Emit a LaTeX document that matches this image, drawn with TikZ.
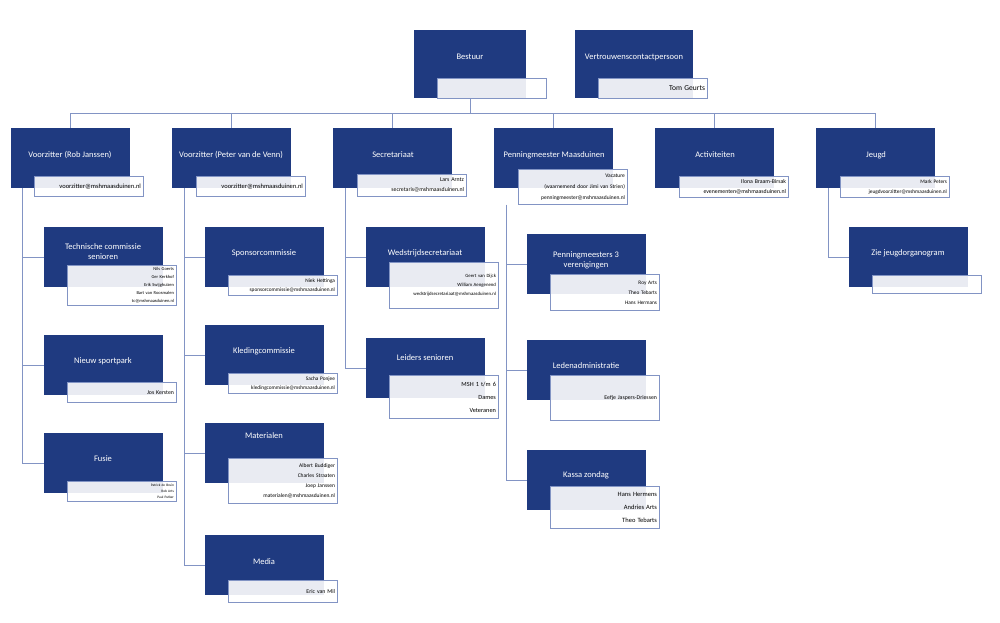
\documentclass[tikz,border=0pt]{standalone}
\usepackage{fontspec}
\setmainfont{Carlito}
\usetikzlibrary{positioning}
\definecolor{unitblue}{HTML}{1F3A80}
\definecolor{linegray}{HTML}{8294C4}
\tikzset{
    unitbox/.style={rectangle, fill=unitblue, minimum width=119pt, minimum height=60pt, anchor=north west, inner sep=0pt},
    infobox/.style={rectangle, draw=linegray, line width=0.9pt, fill=white, fill opacity=0.9, text opacity=1, anchor=north west, minimum width=109pt, inner sep=2pt, text width=104pt, align=right},
    title/.style={text=white, font=\fontsize{8.5}{10}\selectfont, align=center},
    conn/.style={draw=linegray, line width=1pt}
}
\begin{document}
\begin{tikzpicture}[x=1pt, y=-1pt]
    \useasboundingbox (0,0) rectangle (1000,622);
    % top
    \node[unitbox, minimum width=112pt, minimum height=68pt] (bestuur) at (414,30) {};
    \node[infobox, minimum height=20pt] (ibestuur) at (437,78) {};
    \node[title] (tbestuur) at (470,57) {Bestuur};
    \node[unitbox, minimum width=118pt, minimum height=68pt] (vcp) at (575,30) {};
    \node[infobox, minimum height=20pt, font=\fontsize{7.5}{9}\selectfont] (ivcp) at (598,78) {Tom Geurts};
    \node[title] (tvcp) at (634,57) {Vertrouwenscontactpersoon};

    % level 1
    \node[unitbox] (vz1) at (11,128) {};
    \node[unitbox] (vz2) at (172,128) {};
    \node[unitbox] (secr) at (333,128) {};
    \node[unitbox] (penn) at (494,128) {};
    \node[unitbox] (act) at (655,128) {};
    \node[unitbox] (jeugd) at (816,128) {};
    \node[title] at (70,155) {Voorzitter (Rob Janssen)};
    \node[title] at (231,155) {Voorzitter (Peter van de Venn)};
    \node[title] at (393,155) {Secretariaat};
    \node[title] at (554,155) {Penningmeester Maasduinen};
    \node[title] at (715,155) {Activiteiten};
    \node[title] at (876,155) {Jeugd};
    \node[infobox, minimum height=20pt, font=\fontsize{6.5}{8}\selectfont] (ivz1) at (34,176) {voorzitter@mshmaasduinen.nl};
    \node[infobox, minimum height=20pt, font=\fontsize{6.5}{8}\selectfont] (ivz2) at (196,176) {voorzitter@mshmaasduinen.nl};
    \node[infobox, minimum height=22pt, font=\fontsize{5.8}{10}\selectfont] (isecr) at (357,174) {Lars Arntz\\secretaris@mshmaasduinen.nl};
    \node[infobox, minimum height=35pt, font=\fontsize{5.5}{11}\selectfont] (ipenn) at (518,169) {Vacature\\(waarnemend door Jimi van Strien)\\penningmeester@mshmaasduinen.nl};
    \node[infobox, minimum height=21pt, font=\fontsize{5.8}{10}\selectfont] (iact) at (679,176) {Ilona Braam-Birsak\\evenementen@mshmaasduinen.nl};
    \node[infobox, minimum height=21pt, font=\fontsize{5.3}{10}\selectfont] (ijeugd) at (840,176) {Mark Peters\\jeugdvoorzitter@mshmaasduinen.nl};

    % column 1
    \node[unitbox] (tc) at (44,227) {};
    \node[title] at (103,252) {Technische commissie\\senioren};
    \node[infobox, minimum height=40pt, font=\fontsize{4.5}{8}\selectfont, inner sep=1pt] (itc) at (67,265) {Nils Goerts\\Ger Kerkhof\\Erik Swijghuizen\\Bart van Roosmalen\\tc@mshmaasduinen.nl};
    \node[unitbox] (sport) at (44,335) {};
    \node[title] at (103,361) {Nieuw sportpark};
    \node[infobox, minimum height=20pt, font=\fontsize{5.8}{8}\selectfont] (isport) at (67,382) {Jos Kersten};
    \node[unitbox] (fusie) at (44,433) {};
    \node[title] at (103,459) {Fusie};
    \node[infobox, minimum height=20pt, font=\fontsize{3.5}{6}\selectfont, inner sep=1pt] (ifusie) at (67,481) {Patrick de Bruin\\Rob Arts\\Paul Putker};

    % column 2
    \node[unitbox] (spons) at (205,227) {};
    \node[title] at (264,253) {Sponsorcommissie};
    \node[infobox, minimum height=20pt, font=\fontsize{5.3}{9}\selectfont] (ispons) at (228,275) {Niek Hettinga\\sponsorcommissie@mshmaasduinen.nl};
    \node[unitbox] (kled) at (205,325) {};
    \node[title] at (264,351) {Kledingcommissie};
    \node[infobox, minimum height=20pt, font=\fontsize{5.3}{9}\selectfont] (ikled) at (228,373) {Sacha Ponjee\\kledingcommissie@mshmaasduinen.nl};
    \node[unitbox] (mat) at (205,423) {};
    \node[title] at (264,436) {Materialen};
    \node[infobox, minimum height=45pt, font=\fontsize{5.5}{10}\selectfont] (imat) at (228,458) {Albert Buddiger\\Charles Straaten\\Joep Janssen\\materialen@mshmaasduinen.nl};
    \node[unitbox] (media) at (205,535) {};
    \node[title] at (264,562) {Media};
    \node[infobox, minimum height=22pt, font=\fontsize{5.8}{8}\selectfont] (imedia) at (228,580) {Eric van Mil};

    % column 3
    \node[unitbox] (wed) at (366,227) {};
    \node[title] at (425,253) {Wedstrijdsecretariaat};
    \node[infobox, minimum height=46pt, font=\fontsize{4.8}{9}\selectfont] (iwed) at (389,262) {Geert van Dijck\\William Aengenend\\wedstrijdsecretariaat@mshmaasduinen.nl};
    \node[unitbox] (leid) at (366,338) {};
    \node[title] at (425,358) {Leiders senioren};
    \node[infobox, minimum height=43pt, font=\fontsize{6.3}{13}\selectfont] (ileid) at (389,375) {MSH 1 t/m 6\\Dames\\Veteranen};

    % column 4
    \node[unitbox] (pen3) at (527,234) {};
    \node[title] at (586,260) {Penningmeesters 3\\verenigingen};
    \node[infobox, minimum height=36pt, font=\fontsize{5.3}{10}\selectfont] (ipen3) at (550,274) {Roy Arts\\Theo Tebarts\\Hans Hermans};
    \node[unitbox] (leden) at (527,340) {};
    \node[title] at (586,366) {Ledenadministratie};
    \node[infobox, minimum height=45pt, font=\fontsize{5.8}{8}\selectfont] (ileden) at (550,375) {Eefje Jaspers-Driessen};
    \node[unitbox] (kassa) at (527,450) {};
    \node[title] at (586,475) {Kassa zondag};
    \node[infobox, minimum height=42pt, font=\fontsize{6.5}{13}\selectfont] (ikassa) at (550,486) {Hans Hermens\\Andries Arts\\Theo Tebarts};

    % column 6
    \node[unitbox] (zie) at (849,227) {};
    \node[title] at (908,253) {Zie jeugdorganogram};
    \node[infobox, minimum height=18pt] (izie) at (872,275) {};

    % connectors
    \draw[conn] (bestuur.south) -- ++(0,15) coordinate (bus);
    \foreach \u in {vz1, vz2, secr, penn, act, jeugd}
        \draw[conn] (bus) -| (\u.north);
    \foreach \u in {tc, sport, fusie}
        \draw[conn] (vz1.south west) ++(11,0) |- (\u.west);
    \foreach \u in {spons, kled, mat, media}
        \draw[conn] (vz2.south west) ++(12,0) |- (\u.west);
    \foreach \u in {wed, leid}
        \draw[conn] (secr.south west) ++(12,0) |- (\u.west);
    \foreach \u in {pen3, leden, kassa}
        \draw[conn] (ipenn.south -| penn.south west) ++(12,0) |- (\u.west);
    \draw[conn] (jeugd.south west) ++(12,0) |- (zie.west);
\end{tikzpicture}
\end{document}
